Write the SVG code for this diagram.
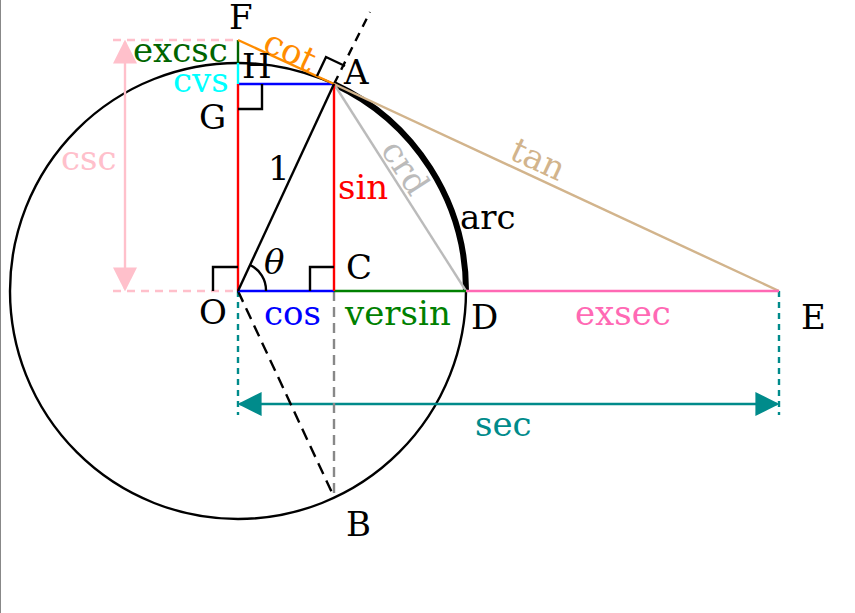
<svg xmlns="http://www.w3.org/2000/svg" width="855" height="613" viewBox="0 0 855 613">
<style>
text{font-family:"DejaVu Serif",serif;font-size:34px}
.k{stroke:#000;stroke-width:2.4;fill:none}
line{stroke-width:2.4}
</style>
<defs>
<marker id="pa" viewBox="0 0 10 10" refX="9" refY="5" markerWidth="24" markerHeight="34" markerUnits="userSpaceOnUse" orient="auto"><path d="M0,0L10,5L0,10z" fill="#ffc0cb"/></marker>
<marker id="ta" viewBox="0 0 10 10" refX="9" refY="5" markerWidth="30" markerHeight="24" markerUnits="userSpaceOnUse" orient="auto"><path d="M0,0L10,5L0,10z" fill="#008b8b"/></marker>
</defs>
<rect width="855" height="613" fill="#fff"/>
<line x1="0.5" y1="0" x2="0.5" y2="613" stroke="#888" style="stroke-width:1"/>
<g id="connectors">
<circle cx="238" cy="291" r="228" class="k"/>
<path d="M334,84 A228,228 0 0 1 466,291" stroke="#000" stroke-width="6" fill="none"/>
<line x1="113" y1="40" x2="238" y2="40" stroke="#ffc0cb" stroke-dasharray="8,6"/>
<line x1="113" y1="291" x2="238" y2="291" stroke="#ffc0cb" stroke-dasharray="8,6"/>
<line x1="125" y1="165" x2="125" y2="42" stroke="#ffc0cb" marker-end="url(#pa)"/>
<line x1="125" y1="165" x2="125" y2="289" stroke="#ffc0cb" marker-end="url(#pa)"/>
<line x1="238" y1="291" x2="238" y2="415" stroke="#008b8b" stroke-dasharray="6,5"/>
<line x1="779" y1="291" x2="779" y2="415" stroke="#008b8b" stroke-dasharray="6,5"/>
<line x1="505" y1="404" x2="240" y2="404" stroke="#008b8b" marker-end="url(#ta)"/>
<line x1="505" y1="404" x2="777" y2="404" stroke="#008b8b" marker-end="url(#ta)"/>
<line x1="238" y1="291" x2="334" y2="497" stroke="#000" stroke-dasharray="12,7"/>
<line x1="334" y1="84" x2="370" y2="12" stroke="#000" stroke-dasharray="9,7"/>
<line x1="334" y1="291" x2="334" y2="497" stroke="#888" stroke-dasharray="10,6"/>
<line x1="334" y1="84" x2="466" y2="291" stroke="#bbb"/>
<line x1="334" y1="84" x2="779" y2="291" stroke="#d2b48c"/>
<line x1="466" y1="291" x2="779" y2="291" stroke="#ff69b4"/>
<line x1="334" y1="291" x2="466" y2="291" stroke="#008000"/>
<line x1="238" y1="291" x2="334" y2="291" stroke="#0000ff"/>
<line x1="238" y1="84" x2="334" y2="84" stroke="#0000ff"/>
<line x1="238" y1="84" x2="238" y2="291" stroke="#ff0000"/>
<line x1="334" y1="84" x2="334" y2="291" stroke="#ff0000"/>
<line x1="238" y1="63" x2="238" y2="84" stroke="#00ffff"/>
<line x1="238" y1="40" x2="238" y2="63" stroke="#006400"/>
<line x1="238" y1="40" x2="334" y2="84" stroke="#ff8c00"/>
<line x1="238" y1="291" x2="334" y2="84" stroke="#000"/>
<path d="M213,291V267H238M310,291V267H334M238,109H262V84" class="k"/>
<path d="M317,76L326,57L345,66" class="k"/>
<path d="M266,291A28,28 0 0 0 250,265" class="k"/>
</g>
<g id="labels">
<text x="229" y="29">F</text>
<text x="242" y="78">H</text>
<text x="344" y="84">A</text>
<text x="199" y="129">G</text>
<text x="199" y="324">O</text>
<text x="346" y="279">C</text>
<text x="471" y="329">D</text>
<text x="801" y="329">E</text>
<text x="346" y="536">B</text>
<text x="264" y="274" font-style="italic">θ</text>
<text x="268" y="180">1</text>
<text x="133" y="62" fill="#006400" font-size="32">excsc</text>
<text x="173" y="92" fill="#00ffff" font-size="32">cvs</text>
<text x="61" y="170" fill="#ffc0cb">csc</text>
<text x="338" y="199" fill="#ff0000">sin</text>
<text x="264" y="325" fill="#0000ff">cos</text>
<text x="345" y="325" fill="#008000">versin</text>
<text x="575" y="325" fill="#ff69b4">exsec</text>
<text x="475" y="436" fill="#008b8b">sec</text>
<text x="460" y="229">arc</text>
<text transform="translate(380,150) rotate(57)" fill="#bbb">crd</text>
<text transform="translate(508,158) rotate(25)" fill="#d2b48c">tan</text>
<text transform="translate(261,50) rotate(25)" fill="#ff8c00">cot</text>
</g>
</svg>
